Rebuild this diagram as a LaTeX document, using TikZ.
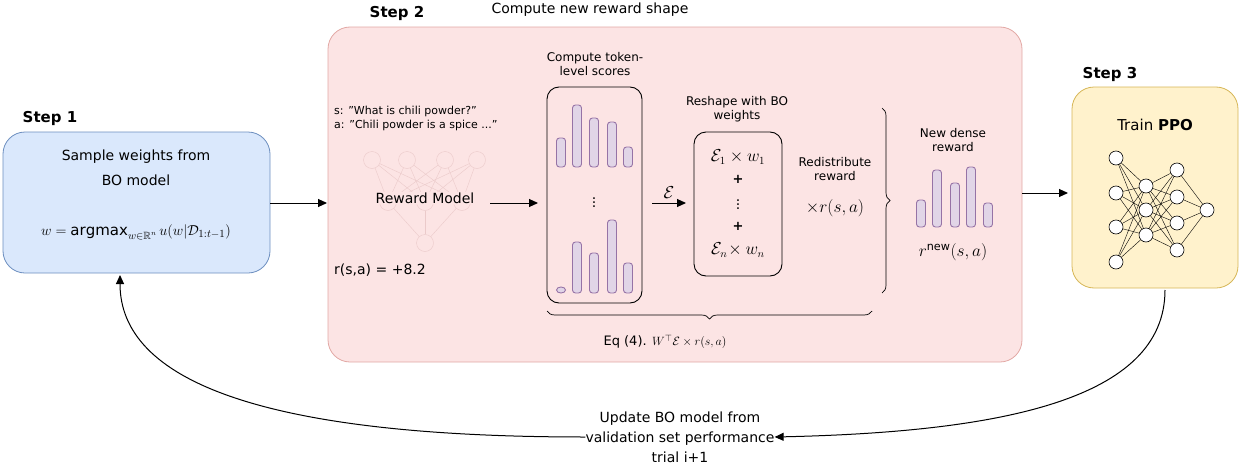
\documentclass[tikz,border=0pt]{standalone}
\usepackage{amsmath,amssymb}
\usepackage{fontspec}
\setmainfont{DejaVu Sans}
\usetikzlibrary{decorations.pathreplacing,arrows.meta}
\definecolor{bfill}{HTML}{DAE8FC}\definecolor{bline}{HTML}{6C8EBF}
\definecolor{pfill}{HTML}{FCE4E4}\definecolor{pline}{HTML}{E2A8A4}
\definecolor{yfill}{HTML}{FFF2CC}\definecolor{yline}{HTML}{D6B656}
\definecolor{vfill}{HTML}{E1D5E7}\definecolor{vline}{HTML}{9673A6}
\definecolor{nnl}{HTML}{EBCACA}
\newcommand{\fs}[1]{\fontsize{#1}{#1}\selectfont}
\begin{document}
\begin{tikzpicture}[x=1pt,y=-1pt,
  stepbox/.style={rounded corners=22pt,line width=0.8pt},
  lbl/.style={font=\fs{15}\bfseries},
  txt/.style={font=\fs{14},align=center,inner sep=0pt},
  sm/.style={font=\fs{12},align=center,inner sep=0pt},
  arr/.style={-{Triangle[length=9pt,width=8pt]},line width=1pt},
  bar/.style={fill=vfill,draw=vline,line width=0.9pt,rounded corners=3pt},
  pn/.style={circle,draw=nnl,fill=pfill,minimum size=17pt,inner sep=0pt},
  yn/.style={circle,draw=black,fill=white,minimum size=14pt,inner sep=0pt,line width=0.6pt},
  grp/.style={draw=black,line width=0.9pt,rounded corners=12pt}]
\useasboundingbox (0,0) rectangle (1245,471);
% boxes
\draw[stepbox,fill=bfill,draw=bline] (3,132) rectangle (270,273);
\coordinate (s1e) at (270,203);
\coordinate (s1s) at (120,275);
\draw[stepbox,fill=pfill,draw=pline] (328,27) rectangle (1022,362);
\coordinate (s2w) at (327,203);
\coordinate (s2e) at (1022,193);
\draw[stepbox,fill=yfill,draw=yline] (1072,87) rectangle (1238,288);
\coordinate (s3w) at (1068,193);
\coordinate (s3s) at (1165,290);
\node[lbl] (l1) at (50,118) {Step 1};
\node[lbl] (l2) at (397,13) {Step 2};
\node[lbl] (l3) at (1110,74) {Step 3};
\node[txt] (ttl) at (590,10) {Compute new reward shape};
% step 1 text
\node[txt] (t1a) at (136,157) {Sample weights from};
\node[txt] (t1b) at (136,180) {BO model};
\node[font=\fs{15}] (eq1) at (136,232) {$w=\operatorname*{argmax}_{w\in\mathbb{R}^n} u(w|\mathcal{D}_{1:t-1})$};
% reward model
\node[font=\fs{11},align=left,anchor=west,inner sep=0pt] (sa) at (334,118) {s: "What is chili powder?"\\[3pt]a: "Chili powder is a spice ..."};
\foreach \i/\x in {1/372,2/407,3/445,4/477} \node[pn] (r\i) at (\x,160) {};
\foreach \i/\x in {1/388,2/425,3/462} \node[pn] (m\i) at (\x,202) {};
\node[pn] (o) at (425,243) {};
\foreach \i in {1,...,4} \foreach \j in {1,2,3} \draw[nnl] (r\i) -- (m\j);
\foreach \j in {1,2,3} \draw[nnl] (m\j) -- (o);
\node[txt,fill=pfill,inner sep=1pt] (rm) at (425,198) {Reward Model};
\node[txt] (rsa) at (380,270) {r(s,a) = +8.2};
\coordinate (a1s) at (490,203);
\coordinate (a1e) at (538,203);
% token scores
\node[sm] (cts) at (595,64) {Compute token-\\[2pt]level scores};
\draw[grp] (547,87) rectangle (642,303);
\foreach \x/\t in {561/138,577/105,594/118,612/122,628/147}
  \draw[bar] (\x-4.5,167) rectangle (\x+4.5,\t);
\foreach \x/\t in {577/242,594/253,612/220,628/263}
  \draw[bar] (\x-4.5,293) rectangle (\x+4.5,\t);
\draw[fill=vfill,draw=vline,line width=0.9pt] (561,290) ellipse (4.5pt and 3pt);
\node[font=\fs{14}] (vd1) at (594,200) {$\vdots$};
\coordinate (a2s) at (652,203);
\coordinate (a2e) at (686,203);
% reshape
\node[sm] (rbo) at (737,109) {Reshape with BO\\[2pt]weights};
\draw[grp] (694,132) rectangle (782,276);
\node[font=\fs{16}] (e1) at (738,157) {$\mathcal{E}_1\times w_1$};
\node[font=\fs{13}\bfseries] (p1) at (738,179) {+};
\node[font=\fs{14}] (vd2) at (738,202) {$\vdots$};
\node[font=\fs{13}\bfseries] (p2) at (738,226) {+};
\node[font=\fs{16}] (en) at (738,250) {$\mathcal{E}_n\!\times w_n$};
\node[sm] (rdr) at (835,169) {Redistribute\\[2pt]reward};
\node[font=\fs{16}] (xr) at (835,208) {$\times r(s,a)$};
% new dense
\node[sm] (ndr) at (953,140) {New dense\\[2pt]reward};
\foreach \x/\t in {921/200,937/170,955/183,971/167,988/203}
  \draw[bar] (\x-4.5,227) rectangle (\x+4.5,\t);
\node[font=\fs{16}] (rn) at (953,252) {$r^{\mathrm{new}}(s,a)$};
% braces
\draw[decorate,decoration={brace,amplitude=8pt},line width=0.7pt] (882,108) -- (882,293);
\draw[decorate,decoration={brace,amplitude=8pt,mirror},line width=0.7pt] (547,311) -- (872,311);
\node[font=\fs{13}] (eq4) at (665,342) {Eq (4). $W^{\top}\mathcal{E}\times r(s,a)$};
% arrows
\draw[arr] (s1e) -- (s2w);
\draw[arr] (a1s) -- (a1e);
\draw[arr] (a2s) -- node[above=1pt,font=\fs{16}] (elab) {$\mathcal{E}$} (a2e);
\draw[arr] (s2e) -- (s3w);
% step 3
\node[font=\fs{15}] (tp) at (1155,125) {Train \textbf{PPO}};
\foreach \i/\y in {1/158,2/193,3/227,4/262} \node[yn] (a\i) at (1116,\y) {};
\foreach \i/\y in {1/186,2/210,3/235} \node[yn] (b\i) at (1146,\y) {};
\foreach \i/\y in {1/170,2/197,3/223,4/250} \node[yn] (c\i) at (1177,\y) {};
\node[yn] (d) at (1207,210) {};
\foreach \i in {1,...,4} \foreach \j in {1,2,3} \draw[line width=0.4pt] (a\i) -- (b\j);
\foreach \i in {1,2,3} \foreach \j in {1,...,4} \draw[line width=0.4pt] (b\i) -- (c\j);
\foreach \j in {1,...,4} \draw[line width=0.4pt] (c\j) -- (d);
% feedback
\node[txt,fill=white] (upd) at (680,437) {Update BO model from\\[6pt]validation set performance\\[6pt]trial i+1};
\draw[arr] (s3s) .. controls (1165,400) and (1000,432) .. (upd.east);
\draw[arr] (upd.west) .. controls (260,437) and (120,380) .. (s1s);
\end{tikzpicture}
\end{document}
